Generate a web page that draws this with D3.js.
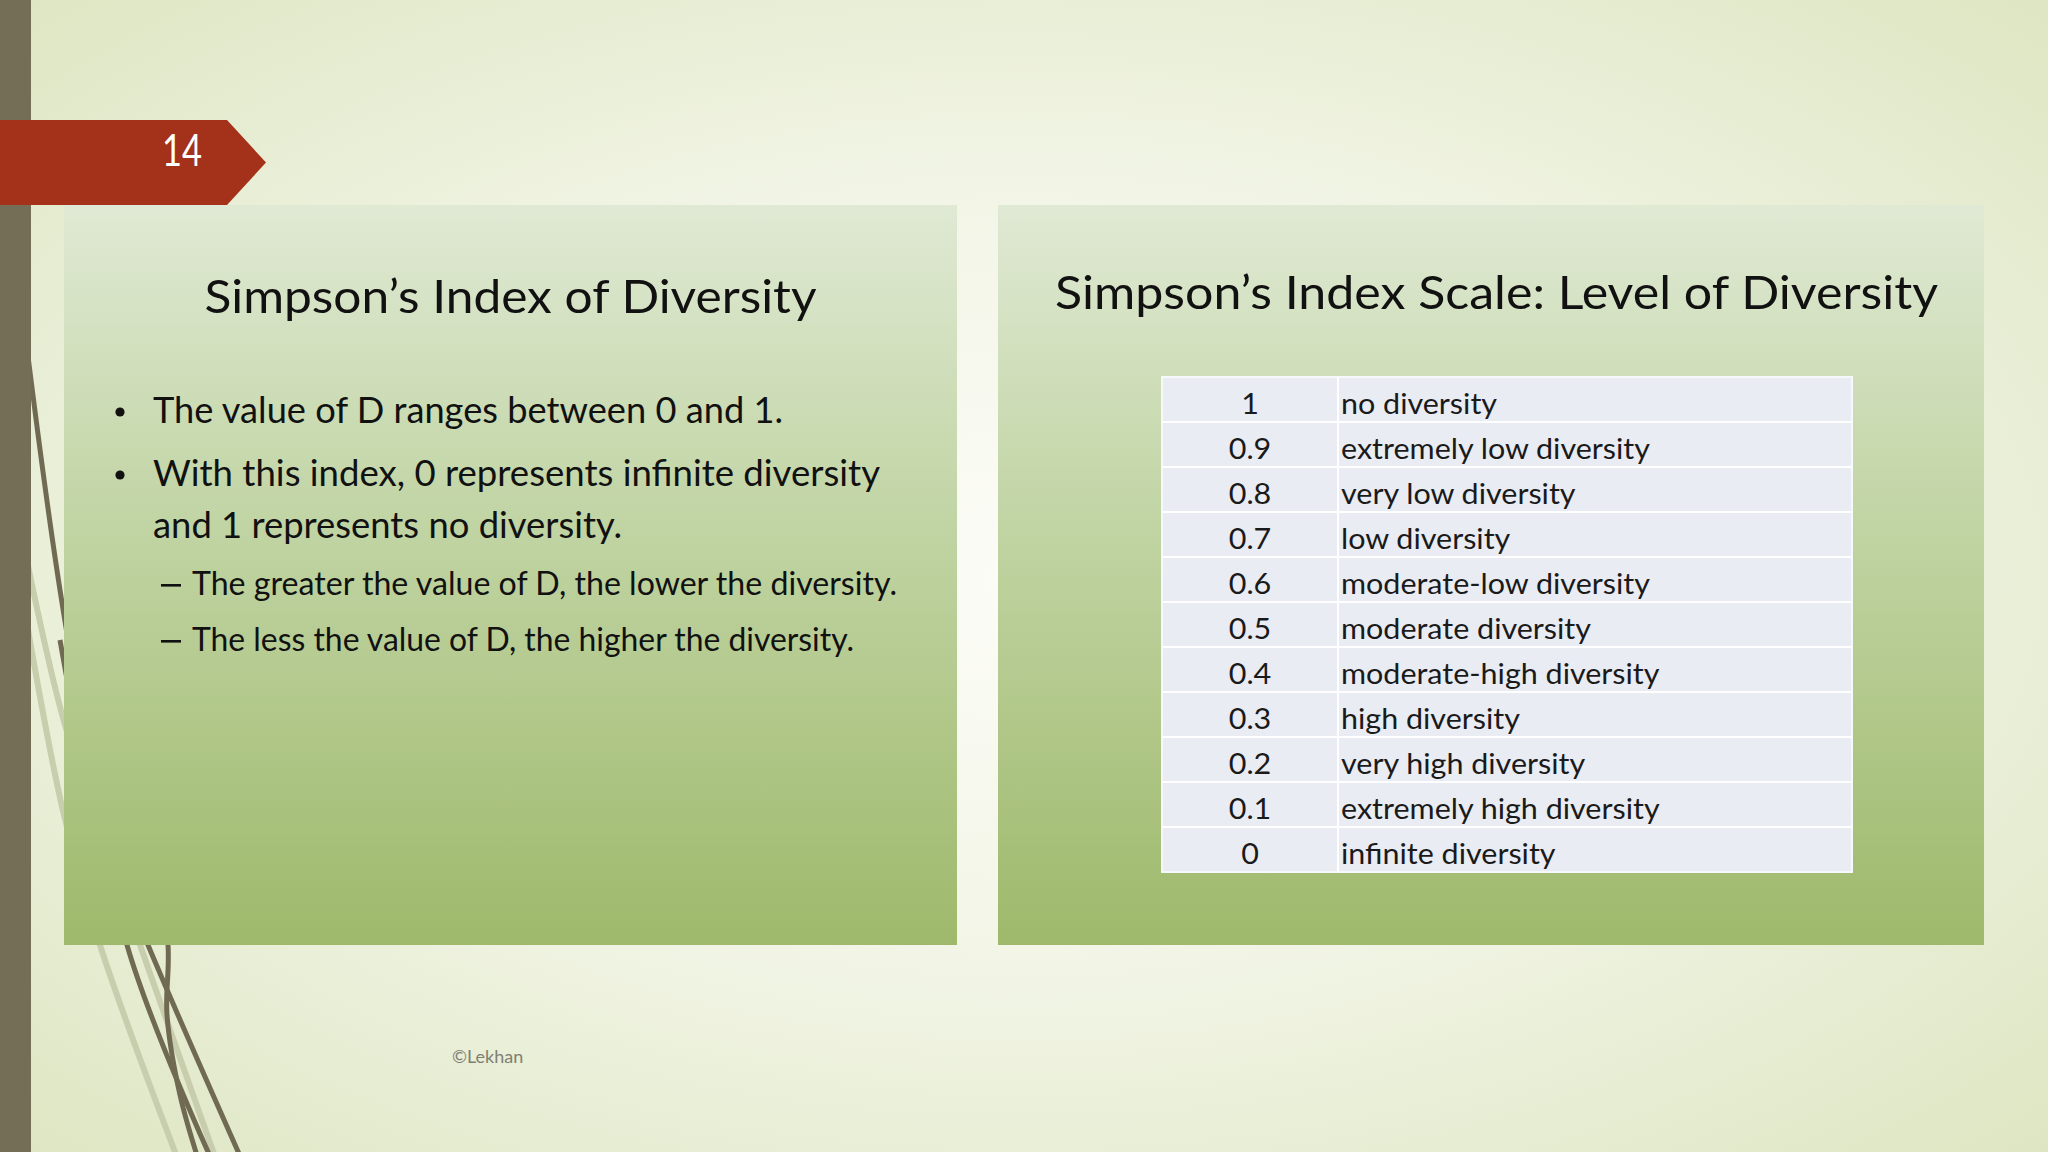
<!DOCTYPE html>
<html>
<head>
<meta charset="utf-8">
<script src="https://cdn.jsdelivr.net/npm/d3@7"></script>
<style>
  html, body { margin: 0; padding: 0; background: #eef1e0; }
  svg { display: block; }
</style>
</head>
<body>
<svg id="slide" width="2048" height="1152"></svg>
<script>
// ---------------- data ----------------
const slideNumber = "14";
const leftTitle = "Simpson\u2019s Index of Diversity";
const bulletTexts = [
  "The value of D ranges between 0 and 1.",
  "With this index, 0 represents infinite diversity",
  "and 1 represents no diversity.",
  "The greater the value of D, the lower the diversity.",
  "The less the value of D, the higher the diversity."
];
const bulletLevels = [1, 1, 1, 2, 2];
const bulletMarkers = [true, true, false, true, true];
const rightTitle = "Simpson\u2019s Index Scale: Level of Diversity";
const scaleValues = ["1", "0.9", "0.8", "0.7", "0.6", "0.5", "0.4", "0.3", "0.2", "0.1", "0"];
const scaleLabels = [
  "no diversity", "extremely low diversity", "very low diversity", "low diversity",
  "moderate-low diversity", "moderate diversity", "moderate-high diversity",
  "high diversity", "very high diversity", "extremely high diversity", "infinite diversity"
];
const footerText = "\u00A9Lekhan";

// ---------------- layout ----------------
const W = 2048, H = 1152;
const FONT = "Lato, 'Open Sans', sans-serif";
const layout = {
  leftPanel: {x0: 64, x1: 957, y0: 205, y1: 945},
  rightPanel: {x0: 998, x1: 1984, y0: 205, y1: 945},
  table: {x0: 1162, x1: 1852, y0: 377, y1: 872, split: 1338},
  bulletBaselines: [423, 486, 538, 595, 651],
  bulletWidths: [630, 727, 469, 705, 662],
  bulletTextX: {1: 153, 2: 192},
  bulletMarkX: {1: 120, 2: 161}
};
const decorDark = [
  [[26, 340], [64, 615], [127, 945], [214, 1165]],
  [[60, 640], [98, 820], [148, 945], [244, 1165]],
  [[150, 820], [168, 945], [167, 1015], [180, 1095], [200, 1165]]
];
const decorLight = [
  [[26, 556], [63, 718], [100, 830], [140, 945], [218, 1165]],
  [[26, 618], [63, 811], [100, 945], [180, 1165]]
];

const svg = d3.select("#slide");
const defs = svg.append("defs");

// background radial gradient
const bg = defs.append("radialGradient").attr("id", "bgGrad")
  .attr("cx", "0.5").attr("cy", "0.5").attr("r", "0.75");
bg.append("stop").attr("offset", "0").attr("stop-color", "#fcfcf7");
bg.append("stop").attr("offset", "0.45").attr("stop-color", "#f2f5e6");
bg.append("stop").attr("offset", "1").attr("stop-color", "#dbe4be");

const pg = defs.append("linearGradient").attr("id", "panelGrad")
  .attr("x1", 0).attr("y1", 0).attr("x2", 0).attr("y2", 1);
pg.append("stop").attr("offset", "0").attr("stop-color", "#e0e9d4");
pg.append("stop").attr("offset", "0.35").attr("stop-color", "#c6d8ac");
pg.append("stop").attr("offset", "1").attr("stop-color", "#9eb96b");

svg.append("rect").attr("width", W).attr("height", H).attr("fill", "url(#bgGrad)");

// decorative wisps
const line = d3.line().curve(d3.curveCatmullRom.alpha(0.5));
svg.append("g").selectAll("path").data(decorLight).join("path")
  .attr("d", line).attr("fill", "none").attr("stroke", "#c8cdae").attr("stroke-width", 6);
svg.append("g").selectAll("path").data(decorDark).join("path")
  .attr("d", line).attr("fill", "none").attr("stroke", "#716a52").attr("stroke-width", 5);

// left bar
svg.append("rect").attr("x", 0).attr("y", 0).attr("width", 31).attr("height", H).attr("fill", "#756e56");

// panels
[layout.leftPanel, layout.rightPanel].forEach(p => {
  svg.append("rect").attr("x", p.x0).attr("y", p.y0)
    .attr("width", p.x1 - p.x0).attr("height", p.y1 - p.y0)
    .attr("fill", "url(#panelGrad)");
});

function fit(sel, target) {
  sel.attr("textLength", target).attr("lengthAdjust", "spacingAndGlyphs");
}

// slide number tag
const tagPath = d3.path();
tagPath.moveTo(0, 120); tagPath.lineTo(227, 120); tagPath.lineTo(266, 162.5);
tagPath.lineTo(227, 205); tagPath.lineTo(0, 205); tagPath.closePath();
svg.append("path").attr("d", tagPath.toString()).attr("fill", "#a4321a");
const tagText = svg.append("text").attr("x", 182).attr("y", 166)
  .attr("text-anchor", "middle").attr("fill", "#ffffff")
  .attr("font-family", FONT).attr("font-size", 44).text(slideNumber);
fit(tagText, 40);

// left title
const lp = layout.leftPanel;
const lt = svg.append("text").attr("x", (lp.x0 + lp.x1) / 2).attr("y", 313)
  .attr("text-anchor", "middle").attr("fill", "#111")
  .attr("font-family", FONT).attr("font-size", 47).text(leftTitle);
fit(lt, 612);

// bullets
const bg2 = svg.append("g").attr("font-family", FONT).attr("fill", "#111");
bulletTexts.forEach((t, i) => {
  const lvl = bulletLevels[i];
  const y = layout.bulletBaselines[i];
  const fs = lvl === 1 ? 36 : 32;
  if (bulletMarkers[i]) {
    if (lvl === 1) {
      bg2.append("circle").attr("cx", layout.bulletMarkX[1]).attr("cy", y - 11).attr("r", 4.6).attr("fill", "#111");
    } else {
      bg2.append("rect").attr("x", layout.bulletMarkX[2]).attr("y", y - 11).attr("width", 20).attr("height", 2.6).attr("fill", "#111");
    }
  }
  const tx = bg2.append("text").attr("x", layout.bulletTextX[lvl]).attr("y", y)
    .attr("font-size", fs).text(t);
  fit(tx, layout.bulletWidths[i]);
});

// right title
const rt = svg.append("text").attr("x", 1496.5).attr("y", 309)
  .attr("text-anchor", "middle").attr("fill", "#111")
  .attr("font-family", FONT).attr("font-size", 47).text(rightTitle);
fit(rt, 883);

// table
const tb = layout.table;
const yRow = d3.scaleBand().domain(scaleValues).range([tb.y0, tb.y1]).padding(0);
const tg = svg.append("g");
tg.append("rect").attr("x", tb.x0).attr("y", tb.y0).attr("width", tb.x1 - tb.x0).attr("height", tb.y1 - tb.y0)
  .attr("fill", "#e9ecf3").attr("stroke", "#f7f8fb").attr("stroke-width", 2);
tg.selectAll("line.sep").data(scaleValues.slice(1)).join("line").attr("class", "sep")
  .attr("x1", tb.x0).attr("x2", tb.x1)
  .attr("y1", d => yRow(d)).attr("y2", d => yRow(d))
  .attr("stroke", "#ffffff").attr("stroke-width", 2);
tg.append("line").attr("x1", tb.split).attr("x2", tb.split).attr("y1", tb.y0).attr("y2", tb.y1)
  .attr("stroke", "#ffffff").attr("stroke-width", 2);

const nums = tg.selectAll("text.num").data(scaleValues).join("text").attr("class", "num")
  .attr("x", (tb.x0 + tb.split) / 2).attr("y", d => yRow(d) + 37)
  .attr("text-anchor", "middle").attr("font-family", FONT).attr("font-size", 28).attr("fill", "#1a1a1a")
  .text(d => d);
const labs = tg.selectAll("text.lab").data(scaleLabels).join("text").attr("class", "lab")
  .attr("x", tb.split + 3).attr("y", (d, i) => yRow(scaleValues[i]) + 37)
  .attr("font-family", FONT).attr("font-size", 28).attr("fill", "#1a1a1a")
  .text(d => d);
const refW = labs.filter((d, i) => i === 1).node().getComputedTextLength();
const ratio = 309 / refW;
labs.each(function () { d3.select(this).attr("textLength", this.getComputedTextLength() * ratio).attr("lengthAdjust", "spacingAndGlyphs"); });
nums.each(function () { d3.select(this).attr("textLength", this.getComputedTextLength() * ratio).attr("lengthAdjust", "spacingAndGlyphs"); });

// footer
svg.append("text").attr("x", 452).attr("y", 1063)
  .attr("font-family", FONT).attr("font-size", 18).attr("fill", "#7f7f74").text(footerText);
</script>
</body>
</html>
